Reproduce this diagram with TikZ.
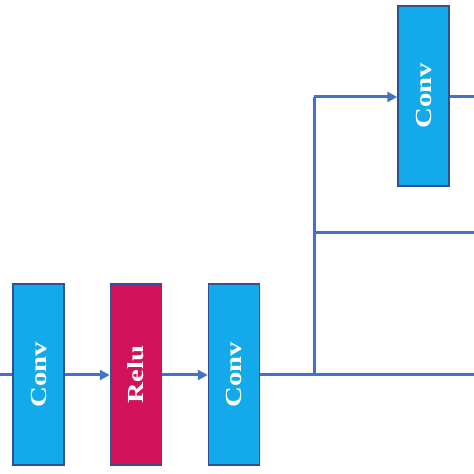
\documentclass[tikz,border=0pt]{standalone}
\usepackage{fontspec}
\setmainfont{Liberation Serif}
\usetikzlibrary{arrows.meta}
\definecolor{convc}{RGB}{18,170,234}
\definecolor{reluc}{RGB}{210,18,90}
\definecolor{edgec}{RGB}{48,80,150}
\definecolor{linec}{RGB}{68,114,196}
\begin{document}
\begin{tikzpicture}[x=1pt,y=1pt,
  blk/.style={draw=edgec,line width=1.5pt,minimum width=51pt,minimum height=181pt,inner sep=0pt,text=white},
  conn/.style={draw=linec,line width=3pt},
  arr/.style={conn,-{Triangle[length=10pt,width=10pt]}}]
\useasboundingbox (0,0) rectangle (474,474);
\newcommand{\blktext}[1]{\scalebox{1.25}[1]{\fontsize{23}{23}\selectfont\bfseries #1}}
\node[blk,fill=convc] (c1) at (38.5,99.5) {\rotatebox{90}{\blktext{Conv}}};
\node[blk,fill=reluc] (r1) at (136,99.5) {\rotatebox{90}{\blktext{Relu}}};
\node[blk,fill=convc] (c2) at (234,99.5) {\rotatebox{90}{\blktext{Conv}}};
\node[blk,fill=convc,minimum height=180pt] (c3) at (423.5,378) {\rotatebox{90}{\blktext{Conv}}};
\coordinate (in) at (0,99);
\coordinate (sp) at (314,99);
\coordinate (out) at (474,99);
\coordinate (up) at (314,377);
\coordinate (mid) at (314,241);
\coordinate (midout) at (474,241);
\coordinate (topout) at (474,377);
\draw[conn] (in) -- (c1.west |- in);
\draw[arr] (c1.east |- in) -- (r1.west |- in);
\draw[arr] (r1.east |- in) -- (c2.west |- in);
\draw[conn] (c2.east |- in) -- (out);
\draw[conn] (sp) -- (up);
\draw[arr] (up) -- (c3.west |- up);
\draw[conn] (mid) -- (midout);
\draw[conn] (c3.east |- up) -- (topout);
\end{tikzpicture}
\end{document}
